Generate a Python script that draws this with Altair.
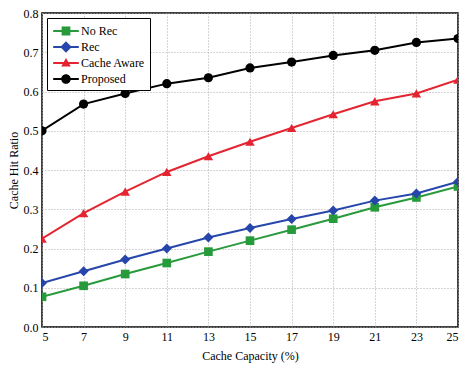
import altair as alt
import pandas as pd

capacity = [5, 7, 9, 11, 13, 15, 17, 19, 21, 23, 25]
series_names = ["No Rec", "Rec", "Cache Aware", "Proposed"]
no_rec = [0.077, 0.105, 0.135, 0.163, 0.192, 0.220, 0.248, 0.276, 0.305, 0.330, 0.358]
rec = [0.112, 0.142, 0.172, 0.200, 0.228, 0.252, 0.275, 0.297, 0.322, 0.340, 0.370]
cache_aware = [0.225, 0.290, 0.345, 0.395, 0.435, 0.472, 0.507, 0.542, 0.575, 0.595, 0.630]
proposed = [0.500, 0.568, 0.595, 0.620, 0.635, 0.660, 0.675, 0.692, 0.705, 0.725, 0.735]

colors = ["#279a3c", "#2746ac", "#e42531", "#000000"]
shapes = ["square", "diamond", "triangle-up", "circle"]
marker_sizes = [75, 100, 90, 85]
bar = "M-1.6,-0.12H1.6V0.12H-1.6Z"
legend_paths = [
    bar + "M-0.55,-0.55H0.55V0.55H-0.55Z",
    bar + "M0,-0.72L0.72,0L0,0.72L-0.72,0Z",
    bar + "M0,-0.62L0.6,0.45H-0.6Z",
    bar + "M0.6,0A0.6,0.6,0,1,1,-0.6,0A0.6,0.6,0,1,1,0.6,0Z",
]

rows = []
for name, vals in zip(series_names, [no_rec, rec, cache_aware, proposed]):
    for c, v in zip(capacity, vals):
        rows.append({"capacity": c, "ratio": v, "series": name})
df = pd.DataFrame(rows)

font = "Liberation Serif"

x = alt.X("capacity:Q", title="Cache Capacity (%)",
          scale=alt.Scale(domain=[5, 25], nice=False),
          axis=alt.Axis(values=capacity, grid=True))
y = alt.Y("ratio:Q", title="Cache Hit Ratio",
          scale=alt.Scale(domain=[0, 0.8], nice=False),
          axis=alt.Axis(values=[0, 0.1, 0.2, 0.3, 0.4, 0.5, 0.6, 0.7, 0.8], format=".1f", grid=True))

base = alt.Chart(df)

layers = []
for name, col, shp, sz in zip(series_names, colors, shapes, marker_sizes):
    sub = base.transform_filter(alt.datum.series == name)
    layers.append(sub.mark_line(strokeWidth=2, color=col, clip=True).encode(x=x, y=y))
    layers.append(
        sub.mark_point(filled=True, opacity=1, size=sz, shape=shp, color=col, clip=True)
        .encode(x=x, y=y)
    )

leg = alt.Legend(
    title=None, orient="none", legendX=5, legendY=5,
    fillColor="white", strokeColor="black", padding=5,
    symbolSize=256, symbolStrokeWidth=0, rowPadding=2,
    labelFont=font, labelFontSize=12, labelColor="black",
    symbolOffset=6, labelOffset=7,
)

legend_layer = base.transform_filter("datum.capacity < 0").mark_point(
    filled=True, size=256, opacity=1
).encode(
    x=x, y=y,
    color=alt.Color("series:N", scale=alt.Scale(domain=series_names, range=colors), legend=leg),
    shape=alt.Shape("series:N", scale=alt.Scale(domain=series_names, range=legend_paths), legend=leg),
)

chart = alt.layer(*layers, legend_layer).properties(
    width=416, height=314,
    autosize=alt.AutoSizeParams(type="none"),
    padding={"left": 34, "top": 5, "right": 8, "bottom": 40},
).configure_view(
    stroke="black", strokeWidth=1.5
).configure_legend(
    strokeColor="black", strokeWidth=1, fillColor="white"
).configure_axis(
    labelFont=font, titleFont=font, labelFontSize=12, titleFontSize=12,
    labelColor="black", titleColor="black", titleFontWeight="normal",
    domain=False, ticks=False,
    gridColor="#aaaaaa", gridDash=[1, 2], gridWidth=1,
).configure_axisX(labelPadding=4, titlePadding=8).configure_axisY(labelPadding=4, titlePadding=3)

chart.save("out.html", embed_options={"renderer": "svg", "actions": False})
